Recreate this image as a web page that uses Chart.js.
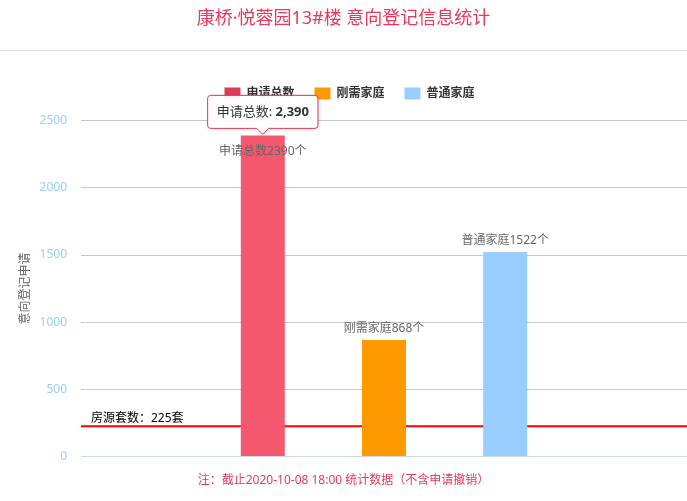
<!DOCTYPE html>
<html>
<head>
<meta charset="utf-8">
<script src="https://cdn.jsdelivr.net/npm/chart.js@4/dist/chart.umd.min.js"></script>
<style>
  html, body { margin: 0; padding: 0; background: #fff; }
  #wrap { width: 687px; height: 501px; }
</style>
</head>
<body>
<div id="wrap"><canvas id="chart"></canvas></div>
<script>
const FONT = '"Noto Sans", "Noto Sans CJK SC", sans-serif';

const categories = ["意向登记"];
const seriesNames = ["申请总数", "刚需家庭", "普通家庭"];
const seriesValues = [2390, 868, 1522];
const legendColors = ["#dc3a55", "#ff9900", "#99ccff"];
const barColors = ["#f4586f", "#ff9900", "#99ccff"];
const yTicks = [0, 500, 1000, 1500, 2000, 2500];
const houseCount = 225;

const titleText = "康桥·悦蓉园13#楼 意向登记信息统计";
const noteText = "注：截止2020-10-08 18:00 统计数据（不含申请撤销）";

const datasets = seriesNames.map(function (name, i) {
    return {
        label: name,
        data: [seriesValues[i]],
        backgroundColor: barColors[i],
        borderWidth: 0,
        categoryPercentage: 0.6,
        barPercentage: 0.363
    };
});

// separator line under the title, extra room under the legend
const headerLine = {
    id: "headerLine",
    beforeLayout(chart) {
        const lg = chart.legend;
        if (lg && !lg._extraGap) {
            const fit = lg.fit.bind(lg);
            lg.fit = function () {
                fit();
                this.height += 11;
            };
            lg._extraGap = true;
        }
    },
    afterLayout(chart) {
        // legend sits a little right of centre
        if (chart.legend) {
            chart.legend.left += 6;
            chart.legend.right += 6;
        }
    },
    beforeDraw(chart) {
        const ctx = chart.ctx;
        ctx.save();
        ctx.strokeStyle = "#dddddd";
        ctx.lineWidth = 1;
        ctx.beginPath();
        ctx.moveTo(0, 50.5);
        ctx.lineTo(chart.width, 50.5);
        ctx.stroke();
        ctx.restore();
    }
};

// red line for number of flats
const houseLine = {
    id: "houseLine",
    beforeDatasetsDraw(chart) {
        const ctx = chart.ctx;
        const area = chart.chartArea;
        const y = chart.scales.y.getPixelForValue(houseCount);
        ctx.save();
        ctx.strokeStyle = "#ff0000";
        ctx.lineWidth = 2;
        ctx.beginPath();
        ctx.moveTo(area.left, y);
        ctx.lineTo(area.right, y);
        ctx.stroke();
        ctx.fillStyle = "#000";
        ctx.font = "12px " + FONT;
        ctx.textBaseline = "bottom";
        ctx.textAlign = "left";
        ctx.fillText("房源套数：" + houseCount + "套", area.left + 10, y - 2);
        ctx.restore();
    }
};

// value labels on top of bars + tooltip
const barLabels = {
    id: "barLabels",
    afterDatasetsDraw(chart) {
        const ctx = chart.ctx;
        const area = chart.chartArea;
        ctx.save();
        ctx.font = "12px " + FONT;
        ctx.fillStyle = "#666666";
        ctx.textAlign = "center";
        ctx.textBaseline = "middle";
        chart.data.datasets.forEach(function (ds, i) {
            const bar = chart.getDatasetMeta(i).data[0];
            let y = bar.y - 11;
            if (y < area.top + 30) y = bar.y + 16;
            ctx.fillText(ds.label + ds.data[0] + "个", bar.x, y);
        });
        ctx.restore();
    },
    afterDraw(chart) {
        const ctx = chart.ctx;
        const bar = chart.getDatasetMeta(0).data[0];
        const name = seriesNames[0] + ": ";
        const val = seriesValues[0].toLocaleString("en-US");
        ctx.save();
        ctx.font = "13px " + FONT;
        const w1 = ctx.measureText(name).width;
        ctx.font = "bold 13px " + FONT;
        const w2 = ctx.measureText(val).width;
        const w = w1 + w2 + 18;
        const h = 33;
        const tipY = bar.y - 1;
        const x0 = bar.x - w / 2;
        const y0 = tipY - 6 - h;
        const r = 3;
        ctx.beginPath();
        ctx.moveTo(x0 + r, y0);
        ctx.lineTo(x0 + w - r, y0);
        ctx.arcTo(x0 + w, y0, x0 + w, y0 + r, r);
        ctx.lineTo(x0 + w, y0 + h - r);
        ctx.arcTo(x0 + w, y0 + h, x0 + w - r, y0 + h, r);
        ctx.lineTo(bar.x + 6, y0 + h);
        ctx.lineTo(bar.x, tipY);
        ctx.lineTo(bar.x - 6, y0 + h);
        ctx.lineTo(x0 + r, y0 + h);
        ctx.arcTo(x0, y0 + h, x0, y0 + h - r, r);
        ctx.lineTo(x0, y0 + r);
        ctx.arcTo(x0, y0, x0 + r, y0, r);
        ctx.closePath();
        ctx.shadowColor = "rgba(0,0,0,0.15)";
        ctx.shadowBlur = 4;
        ctx.shadowOffsetX = 1;
        ctx.shadowOffsetY = 1;
        ctx.fillStyle = "rgba(255,255,255,0.95)";
        ctx.fill();
        ctx.shadowColor = "transparent";
        ctx.strokeStyle = legendColors[0];
        ctx.lineWidth = 1;
        ctx.stroke();
        ctx.textBaseline = "middle";
        ctx.textAlign = "left";
        ctx.fillStyle = "#333333";
        ctx.font = "13px " + FONT;
        ctx.fillText(name, x0 + 9, y0 + h / 2);
        ctx.font = "bold 13px " + FONT;
        ctx.fillText(val, x0 + 9 + w1, y0 + h / 2);
        ctx.restore();
    }
};

new Chart(document.getElementById("chart"), {
    type: "bar",
    data: {
        labels: categories,
        datasets: datasets
    },
    plugins: [headerLine, houseLine, barLabels],
    options: {
        responsive: true,
        maintainAspectRatio: false,
        animation: false,
        layout: { padding: { left: 0, right: 0, top: 0, bottom: 0 } },
        scales: {
            x: {
                ticks: { display: false },
                grid: { display: false, drawTicks: false },
                border: { color: "#ccd6eb", width: 1 },
                afterFit(scale) { scale.height = 0; }
            },
            y: {
                min: 0,
                max: 2500,
                afterBuildTicks(scale) {
                    scale.ticks = yTicks.map(function (v) { return { value: v }; });
                },
                ticks: {
                    color: "#99ccff",
                    font: { family: FONT, size: 12 },
                    padding: 14,
                    callback: function (v) { return String(v); }
                },
                grid: { color: "#c8c8c8", drawTicks: false },
                border: { display: false },
                title: {
                    display: true,
                    text: "意向登记申请",
                    color: "#666666",
                    font: { family: FONT, size: 12 },
                    padding: { top: 18, bottom: 0 }
                },
                afterFit(scale) { scale.width = 81; }
            }
        },
        plugins: {
            title: {
                display: true,
                text: titleText,
                color: "#e8395a",
                font: { family: FONT, size: 18, weight: "normal" },
                padding: { top: 8, bottom: 38 }
            },
            subtitle: {
                display: true,
                position: "bottom",
                text: noteText,
                color: "#e8395a",
                font: { family: FONT, size: 12, weight: "normal" },
                padding: { top: 17, bottom: 13 }
            },
            legend: {
                position: "top",
                labels: {
                    color: "#333333",
                    font: { family: FONT, size: 12, weight: "bold" },
                    boxWidth: 16,
                    boxHeight: 12,
                    padding: 20,
                    generateLabels(chart) {
                        return chart.data.datasets.map(function (ds, i) {
                            return {
                                text: ds.label,
                                fillStyle: legendColors[i],
                                strokeStyle: legendColors[i],
                                lineWidth: 0,
                                fontColor: "#333333",
                                datasetIndex: i,
                                hidden: false
                            };
                        });
                    }
                }
            },
            tooltip: { enabled: false }
        }
    }
});
</script>
</body>
</html>
